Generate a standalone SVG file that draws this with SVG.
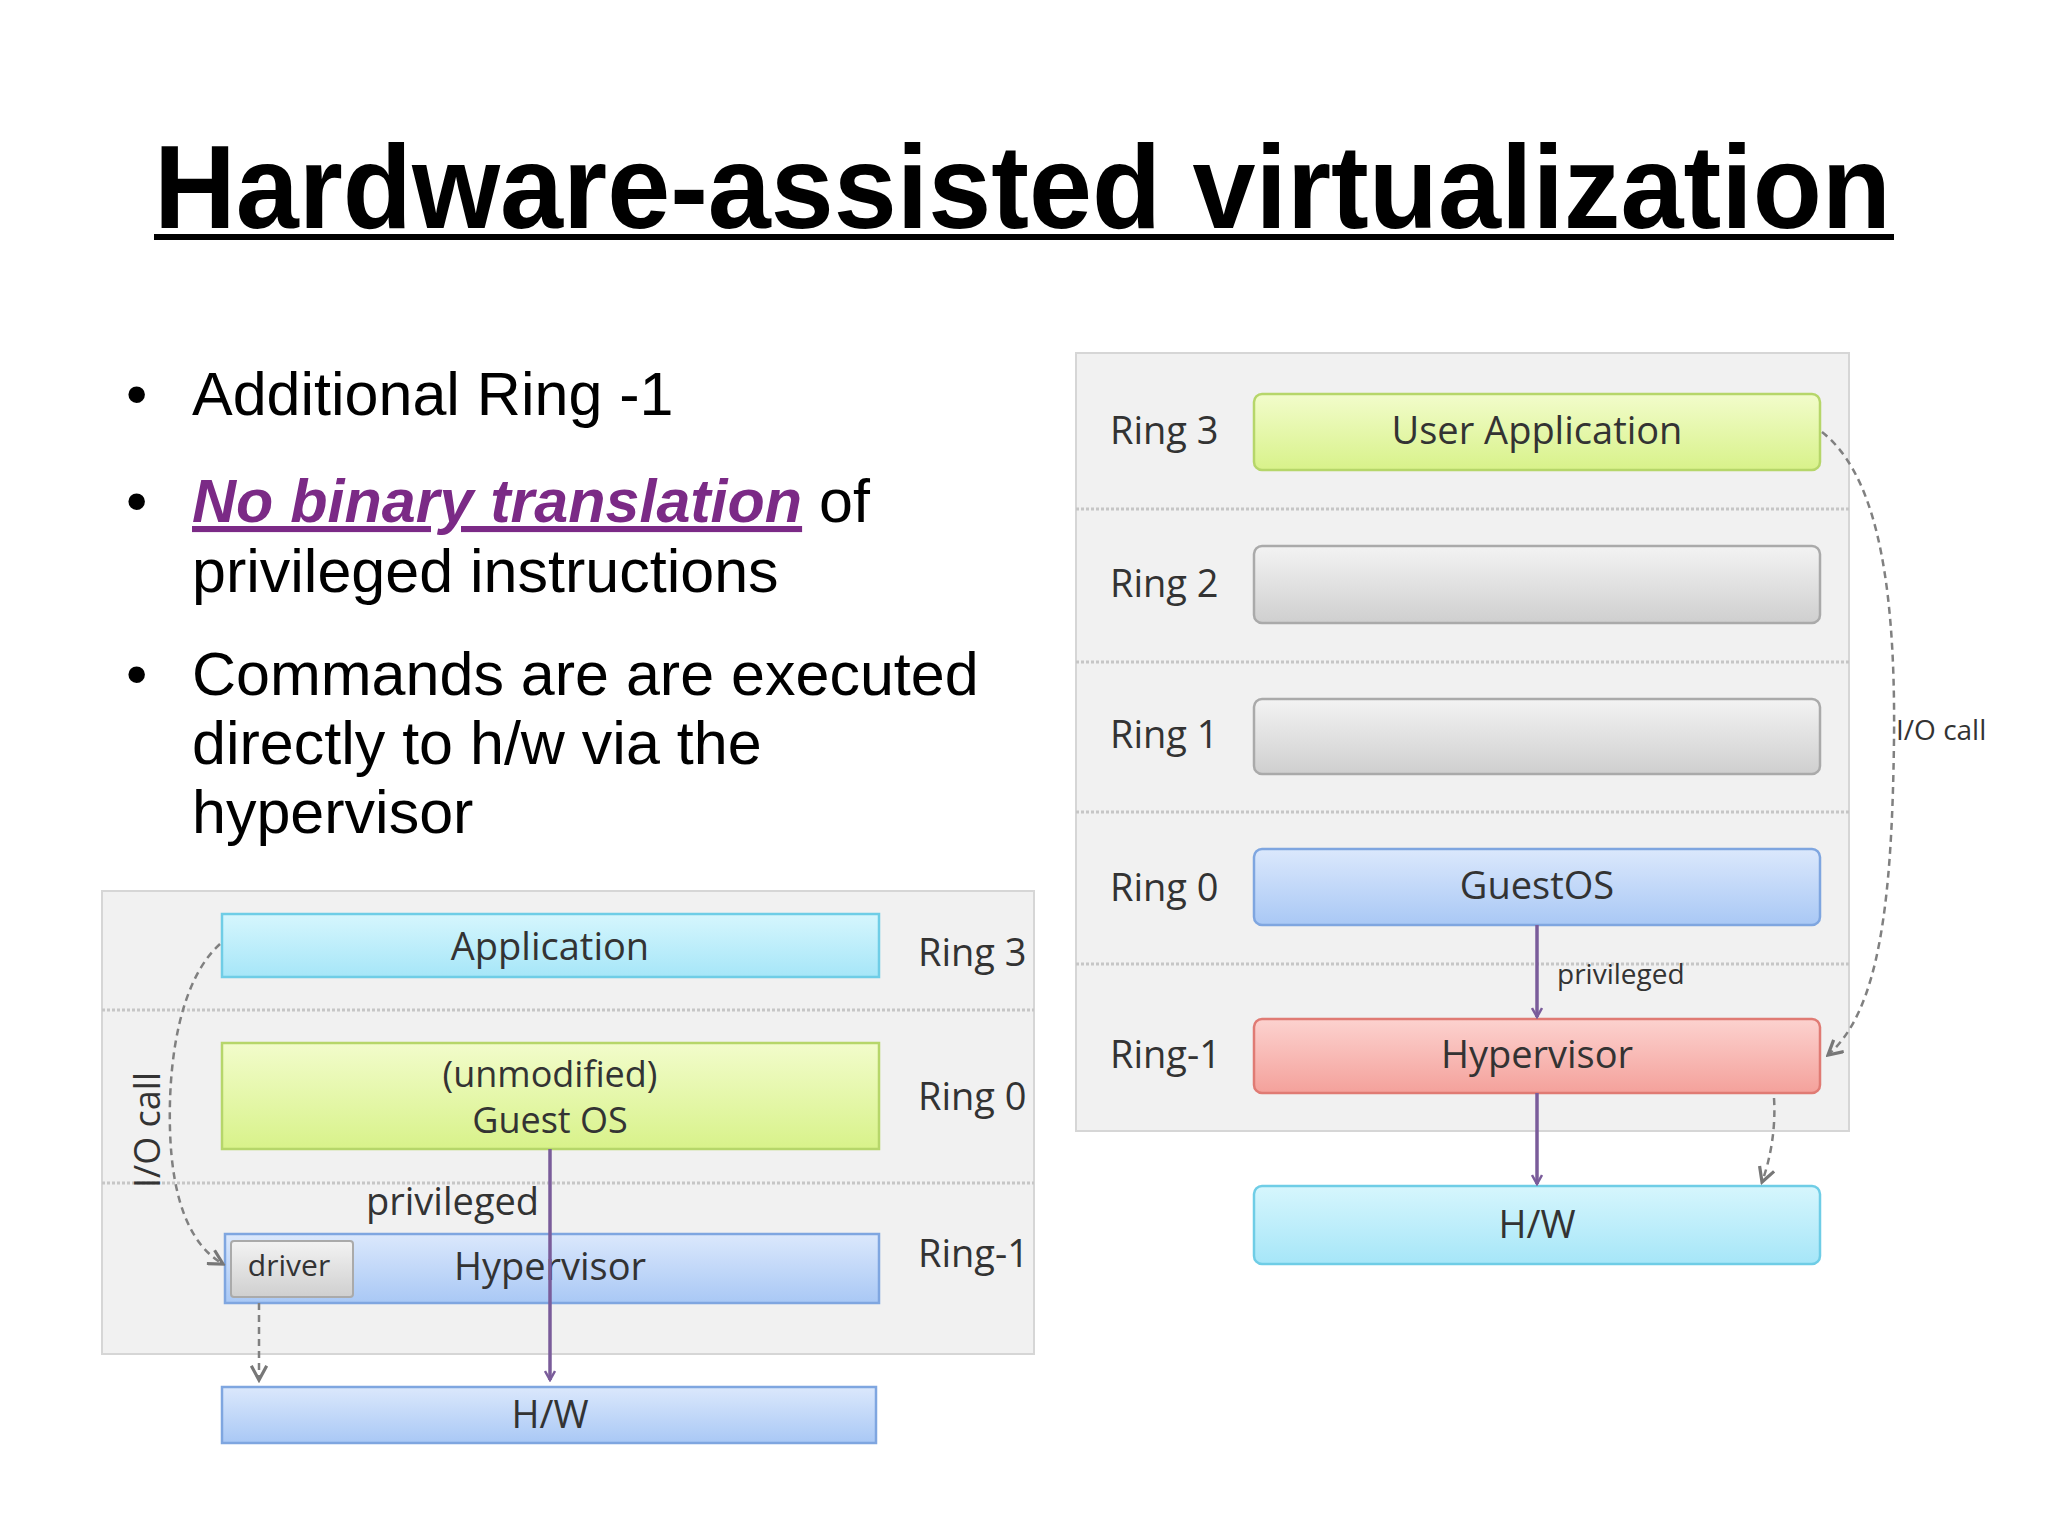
<svg xmlns="http://www.w3.org/2000/svg" width="2048" height="1535" viewBox="0 0 2048 1535">
<defs>
<linearGradient id="gGreen" x1="0" y1="0" x2="0" y2="1"><stop offset="0" stop-color="#f2fccb"/><stop offset="1" stop-color="#d8f28a"/></linearGradient>
<linearGradient id="gGray" x1="0" y1="0" x2="0" y2="1"><stop offset="0" stop-color="#f3f3f3"/><stop offset="1" stop-color="#cfcfcf"/></linearGradient>
<linearGradient id="gBlue" x1="0" y1="0" x2="0" y2="1"><stop offset="0" stop-color="#dbe8fc"/><stop offset="1" stop-color="#a9c8f5"/></linearGradient>
<linearGradient id="gRed" x1="0" y1="0" x2="0" y2="1"><stop offset="0" stop-color="#fcd2cf"/><stop offset="1" stop-color="#f4a19b"/></linearGradient>
<linearGradient id="gCyan" x1="0" y1="0" x2="0" y2="1"><stop offset="0" stop-color="#d6f6fd"/><stop offset="1" stop-color="#a6e6f8"/></linearGradient>
<marker id="aP" viewBox="0 0 12 12" refX="10" refY="6" markerWidth="12" markerHeight="12" markerUnits="userSpaceOnUse" orient="auto"><path d="M1,1 L10,6 L1,11" fill="none" stroke="#7a5c9a" stroke-width="2.5"/></marker>
<marker id="aG" viewBox="0 0 14 14" refX="12" refY="7" markerWidth="18" markerHeight="18" markerUnits="userSpaceOnUse" orient="auto"><path d="M1,1 L12,7 L1,13" fill="none" stroke="#777" stroke-width="2.5"/></marker>
</defs>
<style>
.t{font-family:"Liberation Sans",Arial,sans-serif;fill:#000}
.d{font-family:"Open Sans","DejaVu Sans",sans-serif;fill:#333}
.panel{fill:#f1f1f1;stroke:#d6d6d6;stroke-width:2}
.sep{stroke:#c6c6c6;stroke-width:3;stroke-dasharray:3 2}
.box{stroke-width:2.5}
.pl{stroke:#7a5c9a;stroke-width:3.5;fill:none}
.io{stroke:#808080;stroke-width:2.5;fill:none;stroke-dasharray:7 5}
</style>
<rect width="2048" height="1535" fill="#fff"/>
<g id="title">
<text class="t" x="154" y="228" font-size="118" font-weight="bold" textLength="1737" lengthAdjust="spacingAndGlyphs">Hardware-assisted virtualization</text>
<rect x="154" y="234" width="1740" height="6" fill="#000"/>
</g>
<g id="bullets" class="t" font-size="61">
<text x="126" y="415">•</text><text x="192" y="415" class="t">Additional Ring -1</text>
<text x="126" y="522">•</text><text x="192" y="522" class="t"><tspan fill="#7b2a86" font-weight="bold" font-style="italic" text-decoration="underline">No binary translation</tspan> of</text>
<text x="192" y="592" class="t">privileged instructions</text>
<text x="126" y="695">•</text><text x="192" y="695" class="t">Commands are are executed</text>
<text x="192" y="764" class="t">directly to h/w via the</text>
<text x="192" y="833" class="t">hypervisor</text>
</g>
<g id="right-panel">
<rect class="panel" x="1076" y="353" width="773" height="778"/>
<line class="sep" x1="1076" y1="509" x2="1849" y2="509"/>
<line class="sep" x1="1076" y1="662" x2="1849" y2="662"/>
<line class="sep" x1="1076" y1="812" x2="1849" y2="812"/>
<line class="sep" x1="1076" y1="964" x2="1849" y2="964"/>
<g class="d" font-size="38">
<text x="1110" y="444">Ring 3</text><text x="1110" y="597">Ring 2</text><text x="1110" y="748">Ring 1</text><text x="1110" y="901">Ring 0</text><text x="1110" y="1068">Ring-1</text>
</g>
</g>
<g id="r-userapp"><rect class="box" x="1254" y="394" width="566" height="76" rx="8" fill="url(#gGreen)" stroke="#b6d66a"/><text class="d" x="1537" y="444" font-size="38" text-anchor="middle">User Application</text></g>
<g id="r-ring2"><rect class="box" x="1254" y="546" width="566" height="77" rx="8" fill="url(#gGray)" stroke="#aaa"/></g>
<g id="r-ring1"><rect class="box" x="1254" y="699" width="566" height="75" rx="8" fill="url(#gGray)" stroke="#aaa"/></g>
<g id="r-guestos"><rect class="box" x="1254" y="849" width="566" height="76" rx="8" fill="url(#gBlue)" stroke="#7fa6e0"/><text class="d" x="1537" y="899" font-size="38" text-anchor="middle">GuestOS</text></g>
<g id="r-hypervisor"><rect class="box" x="1254" y="1019" width="566" height="74" rx="8" fill="url(#gRed)" stroke="#e07b74"/><text class="d" x="1537" y="1068" font-size="38" text-anchor="middle">Hypervisor</text></g>
<g id="r-hw"><rect class="box" x="1254" y="1186" width="566" height="78" rx="8" fill="url(#gCyan)" stroke="#6fcde6"/><text class="d" x="1537" y="1238" font-size="38" text-anchor="middle">H/W</text></g>
<g id="left-panel">
<rect class="panel" x="102" y="891" width="932" height="463"/>
<line class="sep" x1="102" y1="1010" x2="1034" y2="1010"/>
<line class="sep" x1="102" y1="1183" x2="1034" y2="1183"/>
<g class="d" font-size="38"><text x="918" y="966">Ring 3</text><text x="918" y="1110">Ring 0</text><text x="918" y="1267">Ring-1</text></g>
</g>
<g id="l-app"><rect class="box" x="222" y="914" width="657" height="63" fill="url(#gCyan)" stroke="#6fcde6"/><text class="d" x="550" y="960" font-size="38" text-anchor="middle">Application</text></g>
<g id="l-guestos"><rect class="box" x="222" y="1043" width="657" height="106" fill="url(#gGreen)" stroke="#b6d66a"/><text class="d" x="550" y="1087" font-size="36" text-anchor="middle">(unmodified)</text><text class="d" x="550" y="1133" font-size="36" text-anchor="middle">Guest OS</text></g>
<g id="l-hypervisor"><rect class="box" x="225" y="1234" width="654" height="69" fill="url(#gBlue)" stroke="#7fa6e0"/><text class="d" x="550" y="1280" font-size="38" text-anchor="middle">Hypervisor</text></g>
<g id="l-driver"><rect x="231" y="1241" width="122" height="56" rx="3" fill="url(#gGray)" stroke="#aaa" stroke-width="2"/><text class="d" x="289" y="1276" font-size="30" text-anchor="middle">driver</text></g>
<g id="l-hw"><rect class="box" x="222" y="1387" width="654" height="56" fill="url(#gBlue)" stroke="#7fa6e0"/><text class="d" x="550" y="1428" font-size="38" text-anchor="middle">H/W</text></g>
<g id="connectors">
<line class="pl" x1="1537" y1="925" x2="1537" y2="1017" marker-end="url(#aP)"/>
<line class="pl" x1="1537" y1="1093" x2="1537" y2="1184" marker-end="url(#aP)"/>
<text class="d" x="1557" y="984" font-size="28">privileged</text>
<path class="io" d="M1822,432 C1870,470 1896,560 1894,740 C1892,900 1880,1010 1828,1055" marker-end="url(#aG)"/>
<text class="d" x="1896" y="740" font-size="28">I/O call</text>
<path class="io" d="M1774,1098 C1776,1130 1770,1160 1762,1182" marker-end="url(#aG)"/>
<line class="pl" x1="550" y1="1149" x2="550" y2="1380" marker-end="url(#aP)"/>
<text class="d" x="366" y="1215" font-size="38">privileged</text>
<path class="io" d="M220,944 C180,980 168,1060 170,1130 C172,1200 190,1245 223,1264" marker-end="url(#aG)"/>
<text class="d" transform="translate(160,1130) rotate(-90)" font-size="36" text-anchor="middle">I/O call</text>
<line class="io" x1="259" y1="1303" x2="259" y2="1380" marker-end="url(#aG)"/>
</g>
</svg>
